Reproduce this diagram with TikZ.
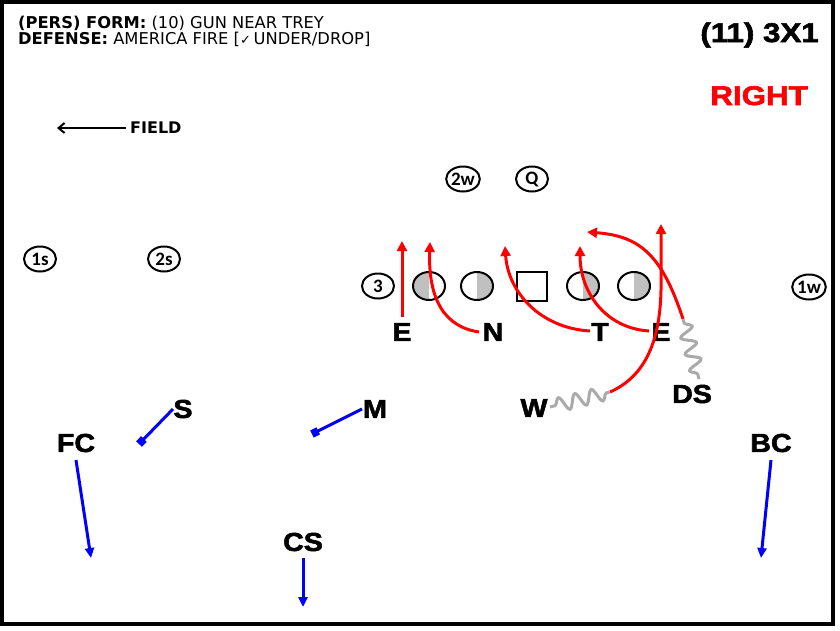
\documentclass[tikz,border=0pt]{standalone}
\usepackage{fontspec}
\setmainfont{DejaVu Sans}
\newfontfamily\blackfont[FakeStretch=1.1,FakeBold=2.2]{Liberation Sans}
\newfontfamily\titlefont[FakeStretch=1.16,FakeBold=2.2]{Liberation Sans}
\newfontfamily\circfont{Carlito}
\usetikzlibrary{arrows.meta,decorations.pathmorphing,shapes.geometric}
\definecolor{halfgray}{RGB}{192,192,192}
\definecolor{squig}{RGB}{170,170,170}
\definecolor{rred}{RGB}{255,0,0}
\definecolor{bblue}{RGB}{0,0,255}
\tikzset{
  player/.style={ellipse, draw, line width=2pt, minimum width=32pt, minimum height=25pt, inner sep=0pt,
    font=\circfont\bfseries\fontsize{19}{19}\selectfont},
  olineL/.style={ellipse, draw, line width=2pt, minimum width=32pt, minimum height=28pt, inner sep=0pt,
    path picture={\fill[halfgray] (path picture bounding box.south west) rectangle (path picture bounding box.north);}},
  olineR/.style={ellipse, draw, line width=2pt, minimum width=32pt, minimum height=28pt, inner sep=0pt,
    path picture={\fill[halfgray] (path picture bounding box.south) rectangle (path picture bounding box.north east);}},
  centerbox/.style={rectangle, draw, line width=2pt, minimum width=30pt, minimum height=29pt, inner sep=0pt},
  deflabel/.style={font=\blackfont\bfseries\fontsize{26}{26}\selectfont, inner sep=0pt},
  route/.style={rred, line width=3pt, -{Triangle[length=10pt,width=10pt]}},
  drop/.style={bblue, line width=3pt, -{Triangle[length=10pt,width=9pt]}},
  stopline/.style={bblue, line width=3pt, -{Square[length=7pt,width=8pt]}},
  squiggle/.style={squig, line width=3pt, decorate,
    decoration={snake, amplitude=7pt, segment length=17pt, pre length=5pt, post length=2pt}},
}
\begin{document}
\begin{tikzpicture}[x=1pt,y=-1pt]
\useasboundingbox (0,0) rectangle (840,630);
\draw[line width=4pt] (2,2) rectangle (833,624);

% header
\node[anchor=base west, inner sep=0pt, font=\fontsize{16.3}{16.3}\selectfont] (h1) at (18,28)
  {\textbf{(PERS) FORM:} (10) GUN NEAR TREY};
\node[anchor=base west, inner sep=0pt, font=\fontsize{16.3}{16.3}\selectfont] (h2) at (18,44)
  {\textbf{DEFENSE:} AMERICA FIRE [{\fontsize{13}{13}\selectfont ✓}\,UNDER/DROP]};
\node[anchor=base east, inner sep=0pt, font=\titlefont\bfseries\fontsize{27}{27}\selectfont] (pers) at (819,42) {(11) 3X1};
\node[anchor=base east, inner sep=0pt, text=rred, font=\titlefont\bfseries\fontsize{27}{27}\selectfont] (side) at (808,105) {RIGHT};

% field indicator
\node[anchor=west, inner sep=0pt, font=\bfseries\fontsize{16}{16}\selectfont] (field) at (130,128) {FIELD};
\coordinate (fieldtip) at (57,128);
\draw[line width=2pt, -{Straight Barb[length=6pt,width=10pt]}] (field.west) ++(-4,0) coordinate (fs) (fs) -- (fieldtip);

% offense
\node[player] (p2w) at (463,179) {2w};
\node[player] (pQ) at (532,179) {Q};
\node[player] (p3) at (378,286) {3};
\node[player] (p1s) at (40,259) {1s};
\node[player] (p2s) at (164,259) {2s};
\node[player] (p1w) at (809,287) {1w};
\node[olineL] (lt) at (429,286) {};
\node[olineR] (lg) at (477,286) {};
\node[centerbox] (c) at (532,286) {};
\node[olineR] (rg) at (583,286) {};
\node[olineR] (rt) at (634,286) {};

% defense labels
\node[deflabel] (dE1) at (402,332) {E};
\node[deflabel] (dN) at (493,332) {N};
\node[deflabel] (dT) at (600,332) {T};
\node[deflabel] (dE2) at (661,332) {E};
\node[deflabel] (dW) at (534,408) {W};
\node[deflabel] (dDS) at (692,394) {DS};
\node[deflabel] (dS) at (183,409) {S};
\node[deflabel] (dM) at (375,409) {M};
\node[deflabel] (dFC) at (76,443) {FC};
\node[deflabel] (dCS) at (303,542) {CS};
\node[deflabel] (dBC) at (771,443) {BC};

% route coordinates
\coordinate (e1s) at (402,317);
\coordinate (e1t) at (402,241);
\coordinate (ns) at (479,332);
\coordinate (nt) at (430,242);
\coordinate (ts) at (590,331);
\coordinate (tt) at (505,246);
\coordinate (e2s) at (649,331);
\coordinate (e2t) at (580,246);
\coordinate (dstop) at (683,319);
\coordinate (dsbot) at (699,379);
\coordinate (dst) at (587,232);
\coordinate (wl) at (550,407);
\coordinate (wr) at (610,392);
\coordinate (wmid) at (661,290);
\coordinate (wt) at (661,224);

% red routes
\draw[route] (e1s) -- (e1t);
\draw[route] (ns) .. controls (445,327) and (428,300) .. (nt);
\draw[route] (ts) .. controls (540,328) and (508,292) .. (tt);
\draw[route] (e2s) .. controls (605,328) and (580,292) .. (e2t);
\draw[route] (dstop) .. controls (662,255) and (640,236) .. (dst);
\draw[route] (wr) .. controls (646,376) and (660,340) .. (wmid) -- (wt);

% squiggles
\draw[squiggle] (wl) -- (wr);
\draw[squiggle] (dsbot) -- (dstop);

% blue drops
\coordinate (ss) at (173,409);
\coordinate (st) at (139,444);
\coordinate (ms) at (362,409);
\coordinate (mt) at (312,434);
\coordinate (fcs) at (76,460);
\coordinate (fct) at (91,558);
\coordinate (css) at (303,558);
\coordinate (cst) at (303,607);
\coordinate (bcs) at (771,460);
\coordinate (bct) at (761,558);
\draw[stopline] (ss) -- (st);
\draw[stopline] (ms) -- (mt);
\draw[drop] (fcs) -- (fct);
\draw[drop] (css) -- (cst);
\draw[drop] (bcs) -- (bct);
\end{tikzpicture}
\end{document}
